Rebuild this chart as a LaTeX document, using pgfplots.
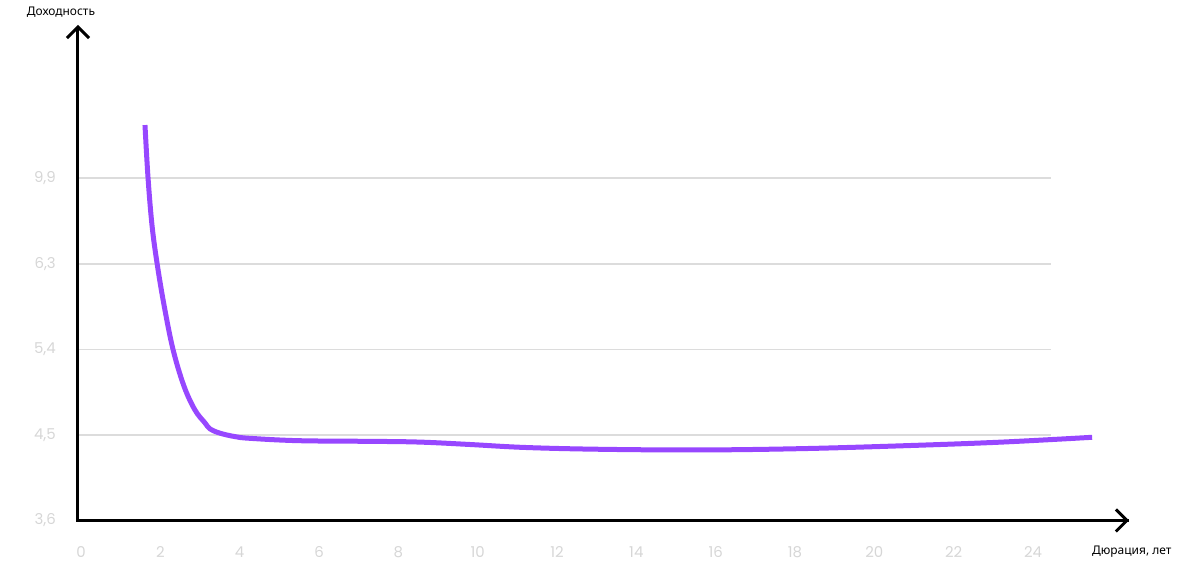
\documentclass[border=0pt]{standalone}
\usepackage{pgfplots}
\pgfplotsset{compat=1.18}
\usepackage{fontspec}
\setmainfont{Noto Sans}
\newfontfamily\numfont{Poppins}
\usetikzlibrary{arrows.meta}
\definecolor{curve}{HTML}{9747FF}
\definecolor{gridc}{HTML}{DCDCDC}
\definecolor{tickc}{HTML}{D6D6D6}
\begin{document}
\begin{tikzpicture}
\begin{axis}[
  x=39.67bp, y=85.6bp,
  scale only axis,
  xmin=-0.076, xmax=26.42, ymin=0, ymax=5.79,
  clip=false,
  axis line style={draw=none},
  major tick length=0pt,
  xtick={0,2,4,6,8,10,12,14,16,18,20,22,24},
  xticklabels={0,2,4,6,8,10,12,14,16,18,20,22,24},
  ytick={0,1,2,3,4},
  yticklabels={{3,6},{4,5},{5,4},{6,3},{9,9}},
  xticklabel style={anchor=base, inner sep=0pt, yshift=-37bp, font=\numfont\fontsize{15}{18}\selectfont, text=tickc},
  yticklabel style={anchor=east, inner sep=0pt, xshift=-22bp, font=\numfont\fontsize{15}{18}\selectfont, text=tickc},
]
\coordinate (bl) at (axis cs:-2.042,-0.594);
\coordinate (tr) at (axis cs:28.21,6.081);
\foreach \yy in {1,2,3,4} {
  \edef\tmp{\noexpand\draw[gridc, line width=1.6bp] (axis cs:-0.076,\yy) -- (axis cs:24.46,\yy);}
  \tmp
}
\addplot[curve, line width=5bp, smooth, tension=0.6] coordinates {
(1.613,4.62) (1.689,4.01) (1.790,3.45) (1.916,3.01) (2.092,2.52)
(2.319,2.00) (2.596,1.57) (2.874,1.29) (3.126,1.14) (3.252,1.07)
(3.504,1.02) (3.882,0.98) (4.26,0.960) (5.52,0.932) (7.5,0.924)
(8.6,0.915) (9.8,0.888) (11.2,0.853) (13.08,0.832) (15.60,0.824) (18.12,0.839)
(20.65,0.872) (23.17,0.915) (25.49,0.972)
};
\draw[black, line width=3bp, -{Straight Barb[length=11bp,width=22bp,line width=3bp]}] (axis cs:26.42,0) -| (axis cs:-0.076,5.79);
\draw[black, line width=3bp, -{Straight Barb[length=11bp,width=22bp,line width=3bp]}] (axis cs:-0.076,0) -- (axis cs:26.42,0);
\node[font=\fontsize{12}{14}\selectfont, text=black, anchor=center] at (axis cs:-0.504,5.94) {Доходность};
\node[font=\fontsize{12}{14}\selectfont, text=black, anchor=center] at (axis cs:26.49,-0.368) {Дюрация, лет};
\end{axis}
\pgfresetboundingbox
\path[use as bounding box] (bl) rectangle (tr);
\end{tikzpicture}
\end{document}
